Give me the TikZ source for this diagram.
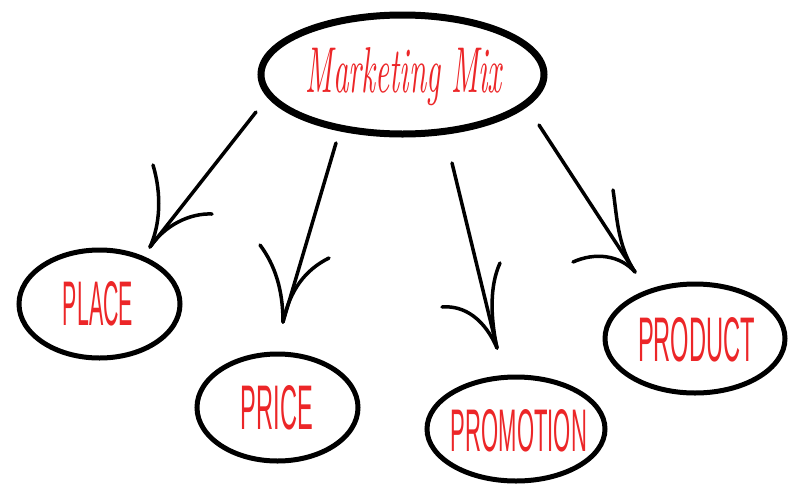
\documentclass[tikz,border=0pt]{standalone}
\usepackage{fontspec}
\usepackage{graphicx}
\setsansfont{Liberation Sans}
\usetikzlibrary{shapes.geometric}
\definecolor{mred}{RGB}{236,38,40}
\tikzset{
  oval/.style={draw=black, line width=5pt, ellipse, inner sep=0pt},
  lbl/.style={text=mred, inner sep=0pt},
  stem/.style={draw=black, line width=3.5pt, line cap=round},
  barb/.style={draw=black, line width=3.5pt, line cap=round}
}
\begin{document}
\begin{tikzpicture}[x=1pt,y=-1pt]
\useasboundingbox (0,0) rectangle (800,501);
% ellipses
\node[oval, line width=7pt, minimum width=283pt, minimum height=119pt] (mix) at (402.5,74.5) {};
\node[oval, minimum width=161pt, minimum height=108pt] (place) at (99.5,304) {};
\node[oval, minimum width=161pt, minimum height=107pt] (price) at (277.5,407.5) {};
\node[oval, minimum width=178pt, minimum height=104pt] (promo) at (516,429) {};
\node[oval, minimum width=180pt, minimum height=109pt] (prod) at (695,338.5) {};
% labels
\node[lbl, anchor=base] (tmix) at (404,92) {\resizebox{196pt}{45pt}{\itshape Marketing Mix}};
\node[lbl] (tplace) at (98,304) {\resizebox{70pt}{44pt}{\sffamily PLACE}};
\node[lbl] (tprice) at (277,408) {\resizebox{72pt}{44pt}{\sffamily PRICE}};
\node[lbl] (tpromo) at (519,431) {\resizebox{136pt}{42pt}{\sffamily PROMOTION}};
\node[lbl] (tprod) at (696.5,340) {\resizebox{117pt}{44pt}{\sffamily PRODUCT}};
% arrow coordinates
\coordinate (s1) at (256,112); \coordinate (t1) at (150,247);
\coordinate (s2) at (336,143); \coordinate (t2) at (283,322);
\coordinate (s3) at (452,163); \coordinate (t3) at (497,348);
\coordinate (s4) at (539,125); \coordinate (t4) at (635,272);
\draw[stem] (s1) -- (t1);
\draw[stem] (s2) -- (t2);
\draw[stem] (s3) -- (t3);
\draw[stem] (s4) -- (t4);
% barbs
\draw[barb] (153,165) .. controls (162,195) and (160,225) .. (t1);
\draw[barb] (212,214) .. controls (190,213) and (165,225) .. (t1);
\draw[barb] (260,245) .. controls (275,265) and (283,290) .. (t2);
\draw[barb] (329,258) .. controls (305,270) and (290,290) .. (t2);
\draw[barb] (442,307) .. controls (465,305) and (485,320) .. (t3);
\draw[barb] (500,263) .. controls (490,285) and (490,315) .. (t3);
\draw[barb] (573,262) .. controls (595,252) and (620,255) .. (t4);
\draw[barb] (613,190) .. controls (617,215) and (617,245) .. (t4);
\end{tikzpicture}
\end{document}
